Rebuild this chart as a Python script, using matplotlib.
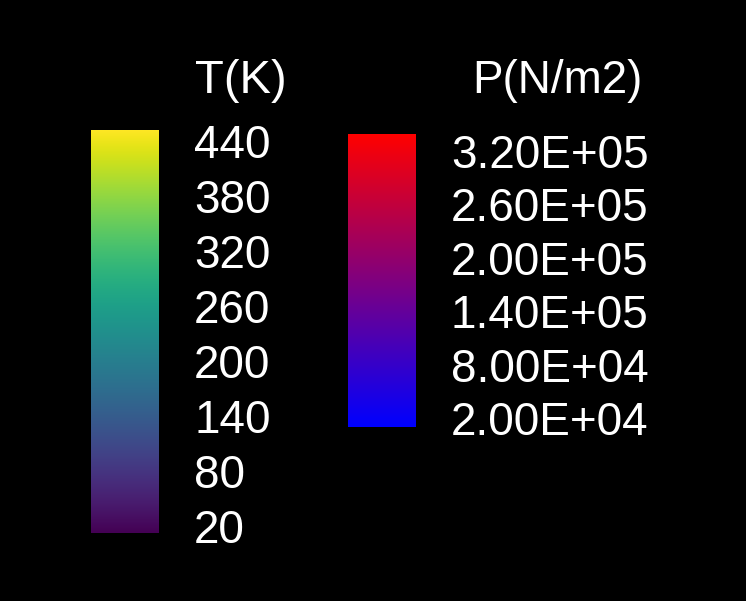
import numpy as np
import matplotlib.pyplot as plt
from matplotlib.colors import LinearSegmentedColormap

# datos de las dos barras de color
t_titulo = 'T(K)'
t_ticks = [440, 380, 320, 260, 200, 140, 80, 20]
p_titulo = 'P(N/m2)'
p_ticks = [3.2e5, 2.6e5, 2.0e5, 1.4e5, 8.0e4, 2.0e4]

W, H = 746, 601
plt.rcParams['font.family'] = ['Liberation Sans', 'DejaVu Sans']

fig = plt.figure(figsize=(W / 100, H / 100), dpi=100, facecolor='black')


def px_axes(x0, y0, x1, y1):
    # rectangulo en pixeles (origen arriba a la izquierda)
    return fig.add_axes([x0 / W, 1 - y1 / H, (x1 - x0) / W, (y1 - y0) / H])


gradiente = np.linspace(0, 1, 256).reshape(-1, 1)

# barra de temperatura (viridis)
ax_t = px_axes(91, 130, 159, 533)
ax_t.imshow(gradiente, aspect='auto', cmap='viridis', origin='lower',
            vmin=0, vmax=1, extent=[0, 1, min(t_ticks), max(t_ticks)])
ax_t.axis('off')

# barra de presion (azul -> rojo)
azul_rojo = LinearSegmentedColormap.from_list('azul_rojo', ['#0000ff', '#ff0000'])
ax_p = px_axes(348, 134, 416, 427)
ax_p.imshow(gradiente, aspect='auto', cmap=azul_rojo, origin='lower',
            vmin=0, vmax=1, extent=[0, 1, min(p_ticks), max(p_ticks)])
ax_p.axis('off')

fs = 33

# titulos
fig.text(195 / W, 1 - 93 / H, t_titulo, color='white', fontsize=fs + 1,
         ha='left', va='baseline')
fig.text(472 / W, 1 - 93 / H, p_titulo, color='white', fontsize=fs,
         ha='left', va='baseline')

# etiquetas T
y0, y1 = 158, 543
paso = (y1 - y0) / (len(t_ticks) - 1)
for i, v in enumerate(t_ticks):
    fig.text(194 / W, 1 - (y0 + i * paso) / H, str(v), color='white',
             fontsize=fs, ha='left', va='baseline')

# etiquetas P
y0, y1 = 168, 435
paso = (y1 - y0) / (len(p_ticks) - 1)
for i, v in enumerate(p_ticks):
    fig.text(451 / W, 1 - (y0 + i * paso) / H, f'{v:.2E}', color='white',
             fontsize=fs, ha='left', va='baseline')

fig.savefig('out.png', dpi=100, facecolor='black')
